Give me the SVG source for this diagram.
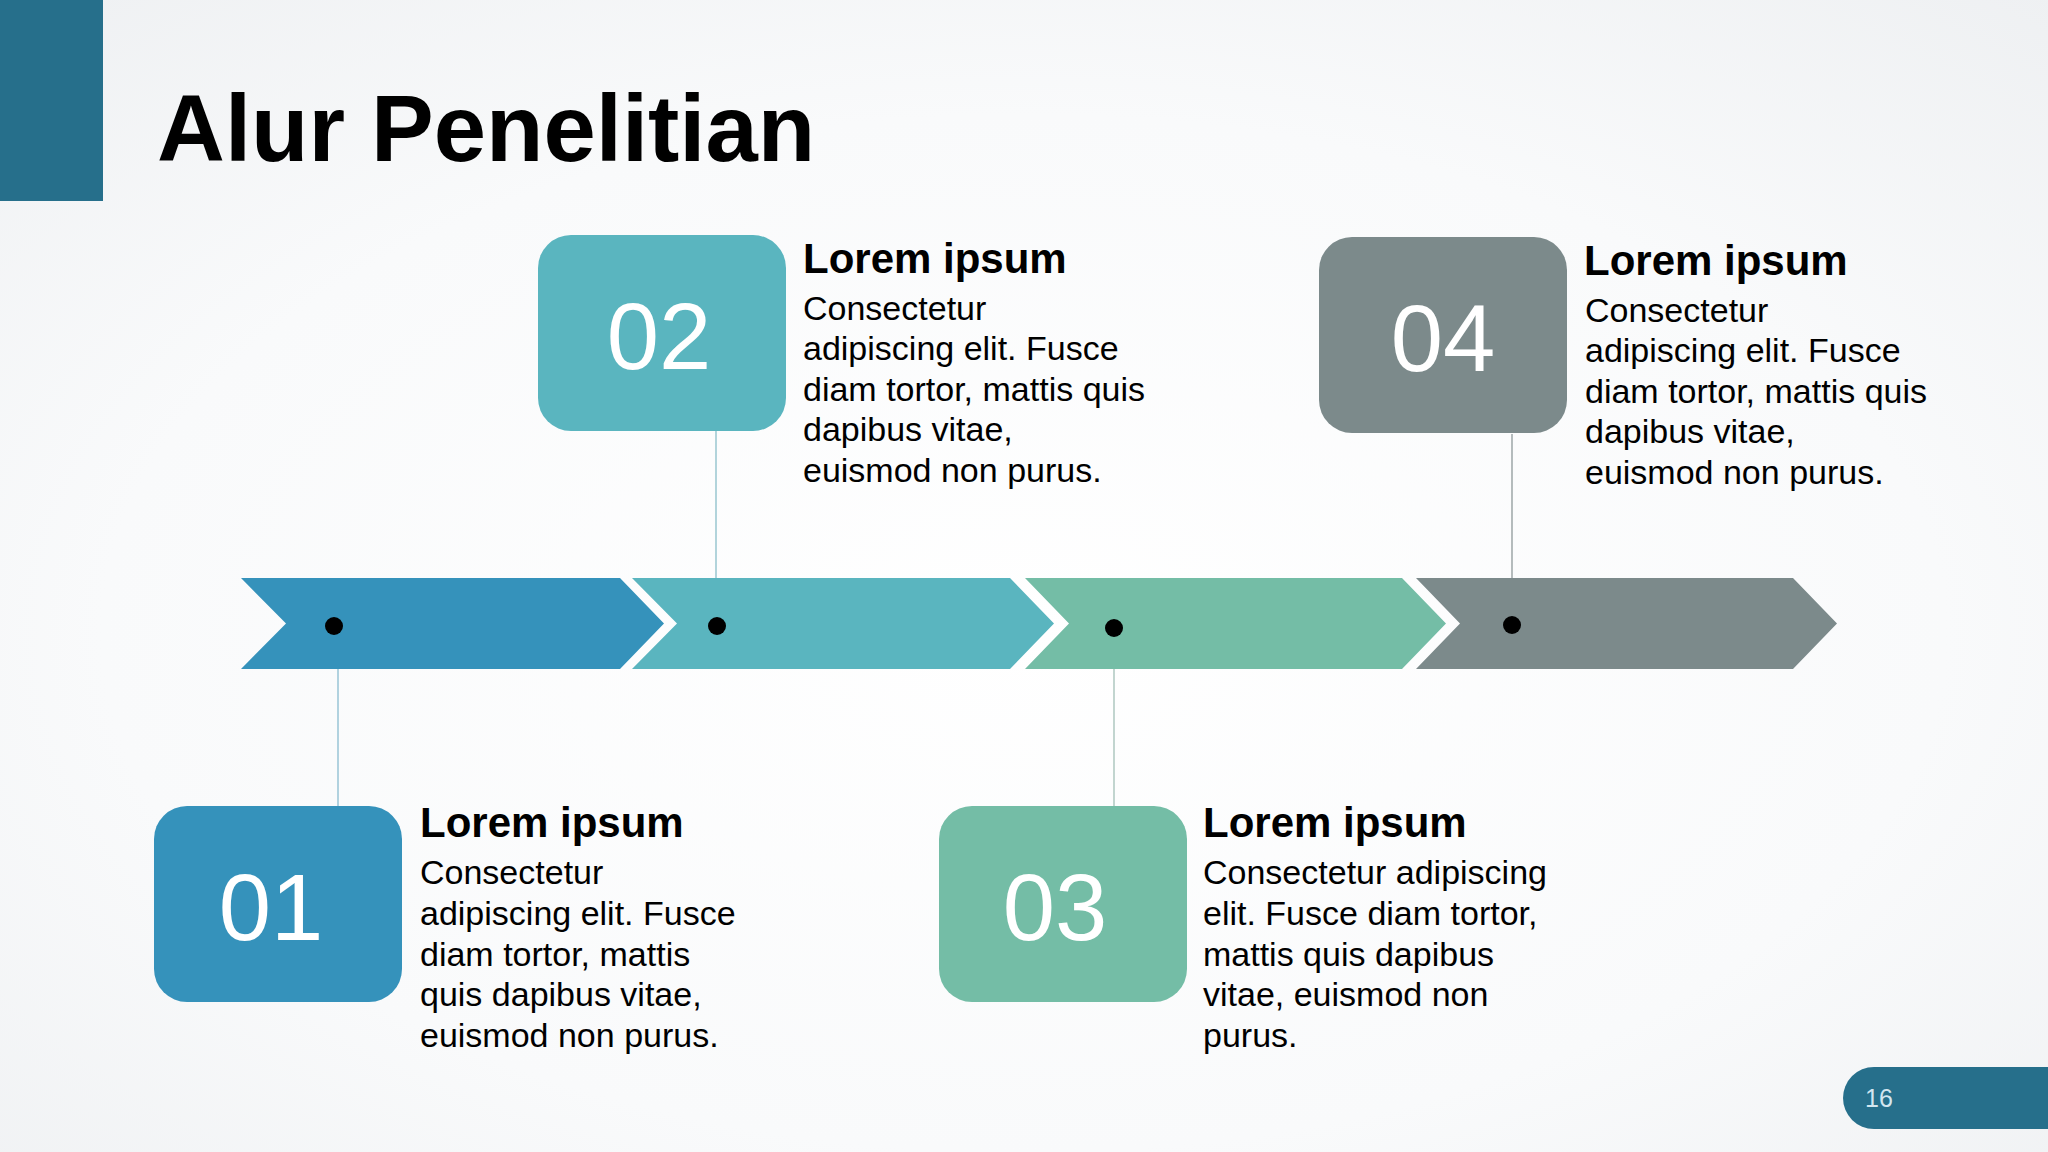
<svg xmlns="http://www.w3.org/2000/svg" width="2048" height="1152" viewBox="0 0 2048 1152">
<defs>
<radialGradient id="bg" cx="0.5" cy="0.55" r="0.75">
<stop offset="0" stop-color="#ffffff"/>
<stop offset="0.6" stop-color="#f9fafb"/>
<stop offset="1" stop-color="#eef0f2"/>
</radialGradient>
<style>
.title{font-family:"Liberation Sans",Arial,sans-serif;font-weight:bold;font-size:94px;fill:#000}
.num{font-family:"Liberation Sans",Arial,sans-serif;font-size:94px;fill:#fff;text-anchor:middle}
.head{font-family:"Liberation Sans",Arial,sans-serif;font-weight:bold;font-size:42px;fill:#000}
.body{font-family:"Liberation Sans",Arial,sans-serif;font-size:34px;fill:#000}
.conn{stroke-width:1.6;fill:none}
.dot{fill:#000}
.pg{font-family:"Liberation Sans",Arial,sans-serif;font-size:25px;fill:#d3e6f0}
</style>
</defs>
<rect width="2048" height="1152" fill="url(#bg)"/>
<rect x="0" y="0" width="103" height="201" fill="#266f8b"/>
<text class="title" x="157" y="161">Alur Penelitian</text>

<g id="connectors">
<line class="conn" x1="338" y1="669" x2="338" y2="806" stroke="#9fc8d8"/>
<line class="conn" x1="716" y1="431" x2="716" y2="578" stroke="#9fcad3"/>
<line class="conn" x1="1114" y1="669" x2="1114" y2="806" stroke="#b3cbc4"/>
<line class="conn" x1="1512" y1="434" x2="1512" y2="578" stroke="#a3abac"/>
</g>

<g id="timeline">
<path id="chevron1" d="M241,578 H620 L664,623.5 L620,669 H241 L286,623.5 Z" fill="#3592bb"/>
<path id="chevron2" d="M632,578 H1010 L1054,623.5 L1010,669 H632 L677,623.5 Z" fill="#5ab5bf"/>
<path id="chevron3" d="M1025,578 H1402 L1446,623.5 L1402,669 H1025 L1069,623.5 Z" fill="#74bda6"/>
<path id="chevron4" d="M1416,578 H1793 L1837,623.5 L1793,669 H1416 L1460,623.5 Z" fill="#7c8a8b"/>
<circle class="dot" cx="334" cy="626" r="9"/>
<circle class="dot" cx="717" cy="626" r="9"/>
<circle class="dot" cx="1114" cy="628" r="9"/>
<circle class="dot" cx="1512" cy="625" r="9"/>
</g>

<g id="step01">
<rect x="154" y="806" width="248" height="196" rx="33" fill="#3592bb"/>
<text class="num" x="271" y="940">01</text>
<text class="head" x="420" y="837">Lorem ipsum</text>
<text class="body" x="420" y="884">Consectetur</text>
<text class="body" x="420" y="925">adipiscing elit. Fusce</text>
<text class="body" x="420" y="966">diam tortor, mattis</text>
<text class="body" x="420" y="1006">quis dapibus vitae,</text>
<text class="body" x="420" y="1047">euismod non purus.</text>
</g>

<g id="step02">
<rect x="538" y="235" width="248" height="196" rx="33" fill="#5ab5bf"/>
<text class="num" x="659" y="369">02</text>
<text class="head" x="803" y="273">Lorem ipsum</text>
<text class="body" x="803" y="320">Consectetur</text>
<text class="body" x="803" y="360">adipiscing elit. Fusce</text>
<text class="body" x="803" y="401">diam tortor, mattis quis</text>
<text class="body" x="803" y="441">dapibus vitae,</text>
<text class="body" x="803" y="482">euismod non purus.</text>
</g>

<g id="step03">
<rect x="939" y="806" width="248" height="196" rx="33" fill="#74bda6"/>
<text class="num" x="1055" y="940">03</text>
<text class="head" x="1203" y="837">Lorem ipsum</text>
<text class="body" x="1203" y="884">Consectetur adipiscing</text>
<text class="body" x="1203" y="925">elit. Fusce diam tortor,</text>
<text class="body" x="1203" y="966">mattis quis dapibus</text>
<text class="body" x="1203" y="1006">vitae, euismod non</text>
<text class="body" x="1203" y="1047">purus.</text>
</g>

<g id="step04">
<rect x="1319" y="237" width="248" height="196" rx="33" fill="#7c8a8b"/>
<text class="num" x="1443" y="371">04</text>
<text class="head" x="1584" y="275">Lorem ipsum</text>
<text class="body" x="1585" y="322">Consectetur</text>
<text class="body" x="1585" y="362">adipiscing elit. Fusce</text>
<text class="body" x="1585" y="403">diam tortor, mattis quis</text>
<text class="body" x="1585" y="443">dapibus vitae,</text>
<text class="body" x="1585" y="484">euismod non purus.</text>
</g>

<g id="page-number">
<path d="M1874,1067 H2048 V1129 H1874 A31,31 0 0 1 1843,1098 A31,31 0 0 1 1874,1067 Z" fill="#266f8b"/>
<text class="pg" x="1865" y="1107">16</text>
</g>
</svg>
